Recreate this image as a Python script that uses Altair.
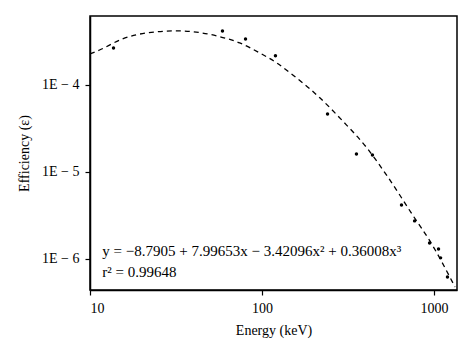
import altair as alt
import pandas as pd

# measured points (energy keV, efficiency)
pt_energy = [13.7, 58.9, 80.2, 119.7, 240.4, 354, 438.5, 647, 771, 942, 1062, 1092, 1197]
pt_eff = [2.66e-4, 4.18e-4, 3.38e-4, 2.16e-4, 4.64e-5, 1.61e-5, 1.57e-5, 4.18e-6,
          2.74e-6, 1.53e-6, 1.30e-6, 1.03e-6, 6.2e-7]

# dashed fit curve
fit_energy = [10, 11.36, 15.46, 21.3, 31.9, 54.6, 74.2, 97, 121.9, 151, 189.7, 216.8,
              295, 407, 540, 755, 948, 1324]
fit_eff = [2.27e-4, 2.52e-4, 3.38e-4, 3.96e-4, 4.18e-4, 3.66e-4, 3.04e-4, 2.33e-4,
           1.79e-4, 1.30e-4, 9.03e-5, 7.11e-5, 3.84e-5, 1.89e-5, 8.7e-6, 3.15e-6,
           1.6e-6, 4.77e-7]

x_ticks = [10, 100, 1000]
y_ticks = [1e-4, 1e-5, 1e-6]

ann_text = ["y = −8.7905 + 7.99653x − 3.42096x² + 0.36008x³", "r² = 0.99648"]
ann_x = [11.8, 11.8]
ann_y = [1.24e-6, 7.1e-7]

pts = pd.DataFrame({"E": pt_energy, "eff": pt_eff})
fit = pd.DataFrame({"E": fit_energy, "eff": fit_eff})
ann = pd.DataFrame({"t": ann_text, "E": ann_x, "eff": ann_y})

FONT = "Liberation Serif"

xs = alt.Scale(type="log", domain=[10, 1360], nice=False)
ys = alt.Scale(type="log", domain=[4.4e-7, 6.2e-4], nice=False)

xax = alt.Axis(values=x_ticks, title="Energy (keV)", grid=False, labelExpr="format(datum.value, 'd')",
               tickSize=5, labelPadding=6, titlePadding=8)
yax = alt.Axis(values=y_ticks, title="Efficiency (ε)", grid=False,
               labelExpr="'1E − ' + format(round(-log(datum.value)/LN10), 'd')",
               tickSize=5, labelPadding=6, titlePadding=10)

line = alt.Chart(fit).mark_line(color="black", strokeDash=[5, 4], strokeWidth=1.3,
                                interpolate="monotone").encode(
    x=alt.X("E:Q", scale=xs, axis=xax),
    y=alt.Y("eff:Q", scale=ys, axis=yax),
)
dots = alt.Chart(pts).mark_circle(color="black", size=12, opacity=1).encode(
    x=alt.X("E:Q", scale=xs),
    y=alt.Y("eff:Q", scale=ys),
)
text = alt.Chart(ann).mark_text(align="left", baseline="middle", font=FONT, fontSize=15,
                                color="black").encode(
    x=alt.X("E:Q", scale=xs),
    y=alt.Y("eff:Q", scale=ys),
    text="t:N",
)

chart = (line + dots + text).properties(
    width=367, height=274,
    autosize="none",
    padding={"left": 90, "top": 16, "right": 17, "bottom": 64},
    background="white",
).configure_view(stroke="black", strokeWidth=1.5).configure_axis(
    domainColor="black", domainWidth=1.5, tickColor="black", tickWidth=1.2,
    labelFont=FONT, titleFont=FONT, labelFontSize=14, titleFontSize=14,
    labelColor="black", titleColor="black", titleFontWeight="normal",
)

chart.save("out.html", embed_options={"renderer": "svg", "actions": False})
